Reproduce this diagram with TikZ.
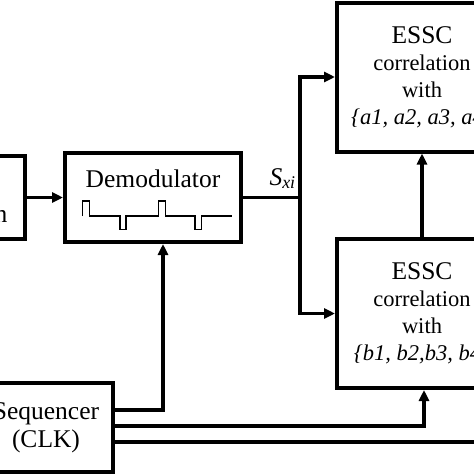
\documentclass[tikz,border=0pt]{standalone}
\usepackage{fontspec}
\setmainfont{Liberation Serif}
\usetikzlibrary{arrows.meta,positioning,calc}
\tikzset{
  blockbox/.style={draw, line width=4pt, inner sep=0pt, align=center},
  flowline/.style={line width=3.6pt},
  bigtext/.style={font=\fontsize{25.5}{28}\selectfont},
  smalltext/.style={font=\fontsize{22.5}{27}\selectfont}
}
\newcommand{\esscbody}[1]{{\fontsize{25.5}{27}\selectfont ESSC}\\correlation\\with\\\textit{\{#1\}}}

\begin{document}
\begin{tikzpicture}[x=1pt, y=-1pt, >={Triangle[length=11pt,width=10pt]}]
    \useasboundingbox (0,0) rectangle (474,474);
    \clip (0,0) rectangle (474,474);
    % --- blocks ---
    \node[blockbox, minimum width=130pt, minimum height=83pt] (src) at (-40,197.5) {};
    \node[bigtext, anchor=base east] (srctxt) at (11,222) {n};
    \node[blockbox, minimum width=176pt, minimum height=89pt] (demod) at (153,197.5) {};
    \node[bigtext, anchor=base] (demodtxt) at (153,187) {Demodulator};
    \node[blockbox, bigtext, minimum width=134pt, minimum height=89pt] (seq) at (46,427.5) {Sequencer\\(CLK)};
    \node[blockbox, smalltext, minimum width=170pt, minimum height=149pt] (essca) at (422,77) {\esscbody{a1, a2, a3, a4}};
    \node[blockbox, smalltext, minimum width=170pt, minimum height=149pt] (esscb) at (422,313.5) {\esscbody{b1, b2,b3, b4}};
    % --- demodulator waveform ---
    \draw[line width=1.5pt] ([xshift=-70.3pt,yshift=-18.5pt]demod.center)
      -- ++(0,-15) -- ++(6.6,0) -- ++(0,15) -- ++(30.7,0) -- ++(0,13.3) -- ++(6,0) -- ++(0,-13.3)
      -- ++(32.3,0) -- ++(0,-15) -- ++(7.4,0) -- ++(0,15) -- ++(29.3,0) -- ++(0,13.3) -- ++(6.7,0)
      -- ++(0,-13.3) -- ++(30,0);
    % --- signal path ---
    \coordinate (split) at (300,197.5);
    \coordinate (clkend) at (490,442);
    \draw[flowline, ->] (src) -- (demod);
    \draw[flowline] (demod) -- (split);
    \node[bigtext, anchor=base west] (sxi) at (266,185) {\textit{S}\textsubscript{\textit{xi}}};
    \draw[flowline, ->] (split) |- (essca);
    \draw[flowline, ->] (split) |- (esscb);
    \draw[flowline, ->] (esscb) -- (essca);
    % --- clock lines from the sequencer ---
    \draw[flowline, ->] ([yshift=17.5pt]seq.east) -| ([xshift=10pt]demod.south);
    \draw[flowline, ->] ([yshift=1.5pt]seq.east) -| ([xshift=2pt]esscb.south);
    \draw[flowline] ([yshift=-14.5pt]seq.east) -- (clkend);
\end{tikzpicture}
\end{document}
